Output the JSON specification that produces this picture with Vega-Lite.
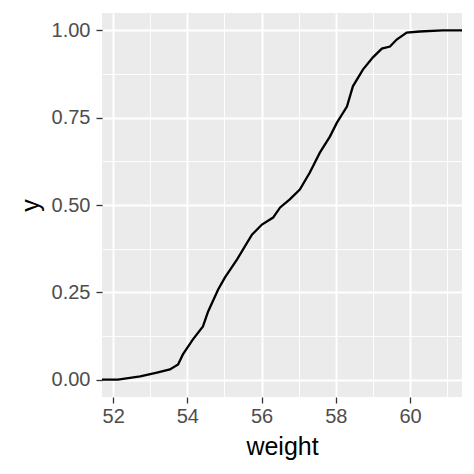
{
  "$schema": "https://vega.github.io/schema/vega-lite/v6.json",
  "autosize": "none",
  "width": 360,
  "height": 384,
  "padding": {"left": 102, "top": 13, "right": 12, "bottom": 77},
  "background": "white",
  "config": {
    "view": {"fill": "#EBEBEB", "stroke": null},
    "axis": {
      "domain": false,
      "grid": true,
      "gridColor": "white",
      "labelFont": "Liberation Sans",
      "labelFontSize": 20,
      "labelColor": "#4D4D4D",
      "tickColor": "#333333",
      "tickSize": 6,
      "tickWidth": 1.3,
      "titleFont": "Liberation Sans",
      "titleFontSize": 25,
      "titleFontWeight": "normal",
      "titleColor": "black"
    }
  },
  "data": {
    "values": [
      {"weight": 51.7, "y": 0.0},
      {"weight": 52.13, "y": 0.0},
      {"weight": 52.73, "y": 0.009},
      {"weight": 53.18, "y": 0.02},
      {"weight": 53.53, "y": 0.029},
      {"weight": 53.75, "y": 0.043},
      {"weight": 53.88, "y": 0.072},
      {"weight": 54.15, "y": 0.115},
      {"weight": 54.42, "y": 0.152},
      {"weight": 54.56, "y": 0.195},
      {"weight": 54.83, "y": 0.258},
      {"weight": 55.01, "y": 0.292},
      {"weight": 55.34, "y": 0.344},
      {"weight": 55.74, "y": 0.415},
      {"weight": 56.01, "y": 0.444},
      {"weight": 56.31, "y": 0.464},
      {"weight": 56.5, "y": 0.493},
      {"weight": 56.76, "y": 0.516},
      {"weight": 57.03, "y": 0.544},
      {"weight": 57.3, "y": 0.593},
      {"weight": 57.57, "y": 0.65},
      {"weight": 57.84, "y": 0.696},
      {"weight": 58.03, "y": 0.736},
      {"weight": 58.3, "y": 0.782},
      {"weight": 58.46, "y": 0.84},
      {"weight": 58.73, "y": 0.888},
      {"weight": 59.0, "y": 0.923},
      {"weight": 59.24, "y": 0.948},
      {"weight": 59.46, "y": 0.954},
      {"weight": 59.64, "y": 0.974},
      {"weight": 59.91, "y": 0.994},
      {"weight": 60.26, "y": 0.997},
      {"weight": 60.88, "y": 1.0},
      {"weight": 61.4, "y": 1.0}
    ]
  },
  "resolve": {"axis": {"x": "independent", "y": "independent"}},
  "layer": [
    {
      "mark": {"type": "point", "opacity": 0},
      "encoding": {
        "x": {
          "field": "weight", "type": "quantitative",
          "scale": {"domain": [51.7, 61.4], "nice": false, "zero": false},
          "axis": {"orient": "bottom", "grid": true, "values": [53, 55, 57, 59, 61], "labels": false, "ticks": false, "title": null, "gridWidth": 0.9}
        },
        "y": {
          "field": "y", "type": "quantitative",
          "scale": {"domain": [-0.05, 1.05], "nice": false},
          "axis": {"orient": "left", "grid": true, "values": [0.125, 0.375, 0.625, 0.875], "labels": false, "ticks": false, "title": null, "gridWidth": 0.9}
        }
      }
    },
    {
      "mark": {"type": "line", "color": "black", "strokeWidth": 2.3, "clip": true},
      "encoding": {
        "x": {
          "field": "weight", "type": "quantitative",
          "axis": {"orient": "bottom", "grid": true, "values": [52, 54, 56, 58, 60], "title": "weight", "gridWidth": 1.9, "labelPadding": 3, "titlePadding": 8}
        },
        "y": {
          "field": "y", "type": "quantitative",
          "axis": {"orient": "left", "grid": true, "values": [0, 0.25, 0.5, 0.75, 1], "format": ".2f", "title": "y", "gridWidth": 1.9, "labelPadding": 6, "titlePadding": 8}
        }
      }
    }
  ]
}
